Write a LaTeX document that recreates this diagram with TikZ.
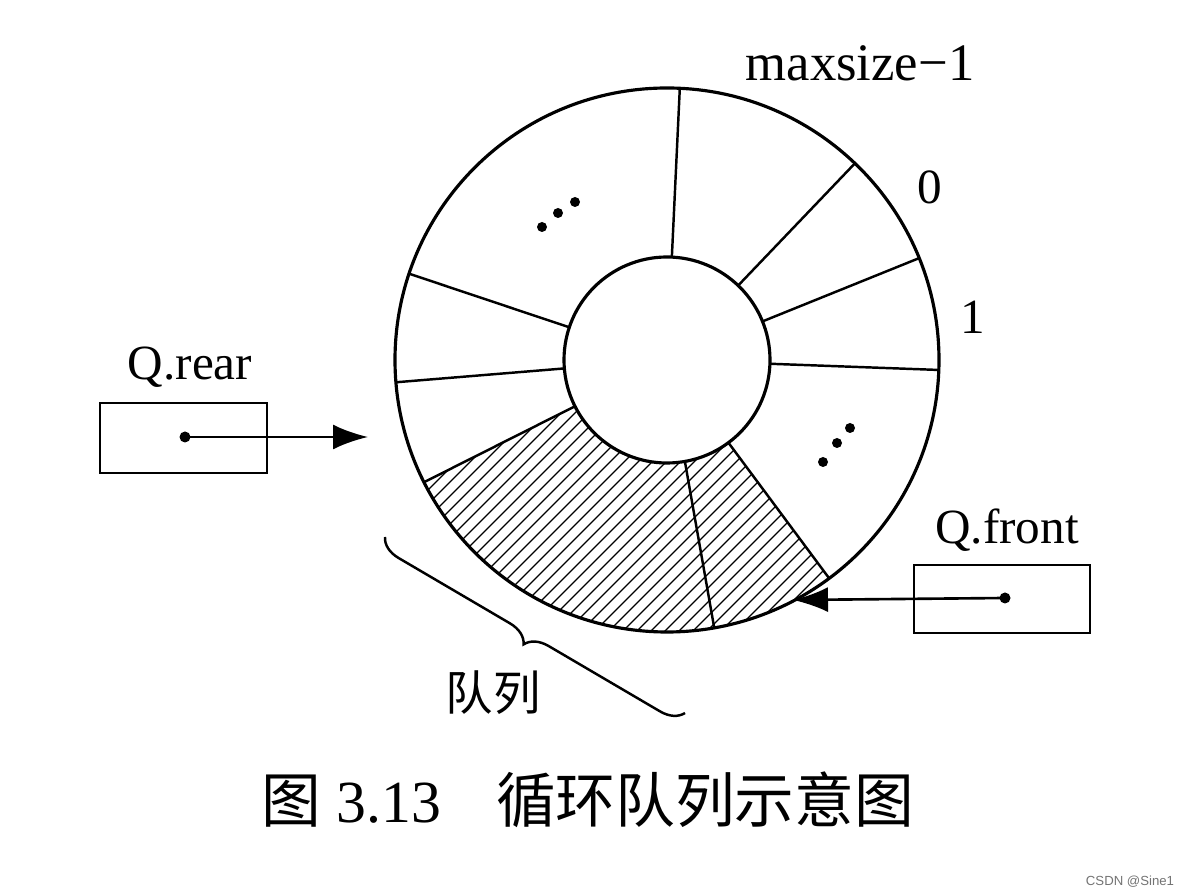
\documentclass[tikz,border=0pt]{standalone}
\usepackage{fontspec}
\setmainfont{Liberation Serif}
\newfontfamily\cjk{Noto Sans CJK SC}
\newfontfamily\wmfont{Liberation Sans}
\usetikzlibrary{arrows.meta,decorations.pathreplacing,calc}
\begin{document}
\begin{tikzpicture}[x=0.02cm,y=0.02cm,
  ringline/.style={line width=1.8pt},
  spoke/.style={line width=1.4pt},
  hatch/.style={line width=0.7pt},
  ptrbox/.style={draw,line width=1.6pt,minimum width=3.34cm,minimum height=1.4cm,inner sep=0pt},
  ptrdot/.style={circle,fill,inner sep=0pt,minimum size=0.22cm},
  lbl/.style={font=\fontsize{28}{30}\selectfont,inner sep=0pt},
  ptr/.style={line width=1.5pt,-{Latex[length=0.7cm,width=0.5cm]}},
  bigdot/.style={circle,fill,inner sep=0pt,minimum size=0.2cm}]
\useasboundingbox (0,0) rectangle (1188,896);
\coordinate (O) at (667,536);
% hatched queue part
\begin{scope}
  \clip ($(O)+(206.7:272)$) arc[start angle=206.7,end angle=306.6,radius=272]
        -- ($(O)+(306.6:103)$) arc[start angle=306.6,end angle=206.7,radius=103] -- cycle;
  \foreach \c in {-610,-596,...,130} \draw[hatch] (300,300+\c) -- (900,900+\c);
\end{scope}
% ring
\draw[ringline] (O) circle[radius=272];
\draw[ringline] (O) circle[radius=103];
\foreach \a in {87.3,46.3,22,-2.1,-53.4,-80,206.7,184.7,161.5}
  \draw[spoke] ($(O)+(\a:103)$) -- ($(O)+(\a:272)$);
% dots
\node[bigdot] (d1) at (542,669) {};
\node[bigdot] (d2) at (558,683) {};
\node[bigdot] (d3) at (575,694) {};
\node[bigdot] (d4) at (823,434) {};
\node[bigdot] (d5) at (837,453) {};
\node[bigdot] (d6) at (850,468) {};
% labels
\node[lbl,font=\fontsize{30}{32}\selectfont] (lmax) at (860,833) {maxsize−1};
\node[lbl] (l0) at (930,709) {0};
\node[lbl] (l1) at (973,579) {1};
% rear pointer
\node[lbl] (lrear) at (190,529) {Q.rear};
\node[ptrbox] (rearbox) at (183.5,458) {};
\node[ptrdot] (rdot) at (185,459) {};
\coordinate (rearend) at (368,459);
\draw[ptr] (rdot.center) -- (rearend);
% front pointer
\node[lbl] (lfront) at (1007,366) {Q.front};
\node[ptrbox,minimum width=3.52cm,minimum height=1.36cm] (frontbox) at (1002,297) {};
\node[ptrdot] (fdot) at (1005,298) {};
\coordinate (frontend) at (793,296);
\draw[ptr] (fdot.center) -- (frontend);
% brace
\draw[line width=1.4pt,decorate,decoration={brace,amplitude=0.45cm}] (685,183) -- (385,359);
\node[font=\cjk\fontsize{27}{29}\selectfont,inner sep=0pt] (lq) at (493,203) {队列};
% caption
\node[font=\fontsize{34}{36}\selectfont,inner sep=0pt] (cap) at (588,96) {{\cjk 图}\hspace{0.3cm}3.13\hspace{1.1cm}{\cjk 循环队列示意图}};
\node[font=\wmfont\fontsize{7.5}{9}\selectfont,text=black!55,inner sep=0pt] (wm) at (1130,14) {CSDN @Sine1};
\end{tikzpicture}
\end{document}
